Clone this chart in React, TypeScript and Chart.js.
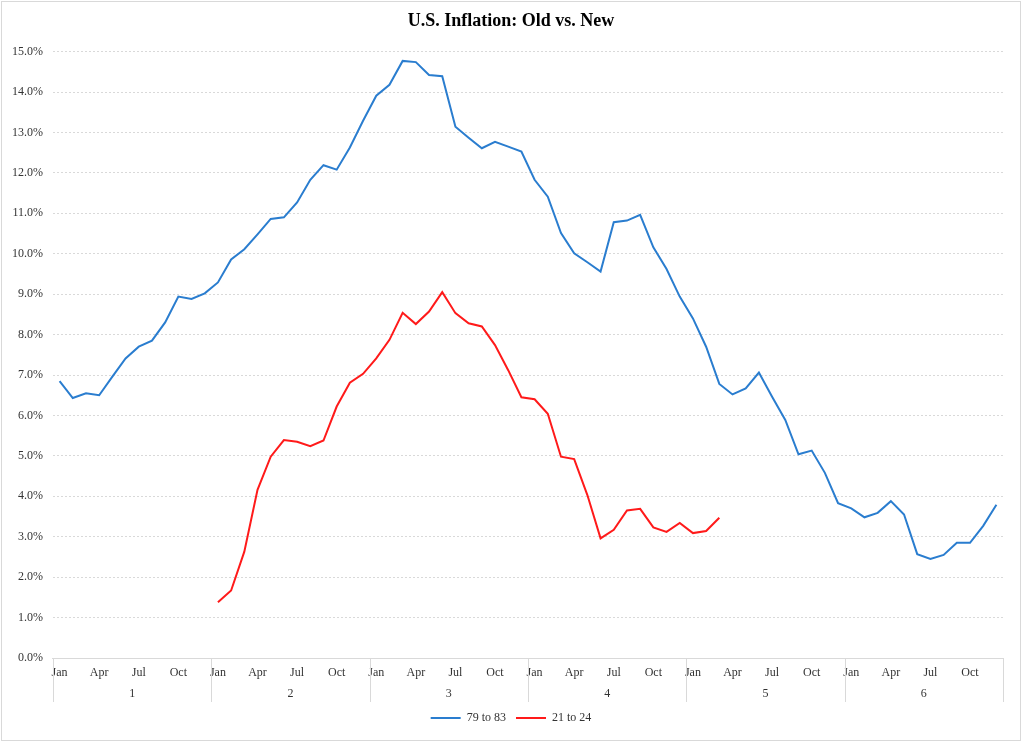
import { useEffect, useRef } from 'react';
import { Chart, registerables } from 'chart.js';

Chart.register(...registerables);

const TITLE = 'U.S. Inflation: Old vs. New';
const YEARS = ['1', '2', '3', '4', '5', '6'];
const MONTHS = ['Jan', 'Feb', 'Mar', 'Apr', 'May', 'Jun', 'Jul', 'Aug', 'Sep', 'Oct', 'Nov', 'Dec'];
const SHOWN_MONTHS = ['Jan', 'Apr', 'Jul', 'Oct'];
const Y_MIN = 0;
const Y_MAX = 15;
const Y_STEP = 1;

const SERIES_OLD_NAME = '79 to 83';
const SERIES_NEW_NAME = '21 to 24';

const OLD_79_83 = [
  6.85, 6.43, 6.55, 6.50, 6.96, 7.41, 7.70, 7.85, 8.30, 8.94, 8.88, 9.02,
  9.29, 9.86, 10.11, 10.48, 10.86, 10.90, 11.27, 11.83, 12.19, 12.08, 12.63, 13.29,
  13.91, 14.18, 14.77, 14.74, 14.42, 14.39, 13.14, 12.87, 12.61, 12.77, 12.65, 12.53,
  11.83, 11.41, 10.51, 10.01, 9.79, 9.56, 10.78, 10.82, 10.96, 10.16, 9.62, 8.94,
  8.40, 7.70, 6.78, 6.52, 6.67, 7.06, 6.46, 5.89, 5.04, 5.13, 4.58, 3.83,
  3.70, 3.48, 3.59, 3.88, 3.55, 2.57, 2.45, 2.55, 2.85, 2.85, 3.27, 3.79,
];

const NEW_21_24 = [
  null, null, null, null, null, null, null, null, null, null, null, null,
  1.38, 1.67, 2.63, 4.16, 4.98, 5.39, 5.35, 5.24, 5.38, 6.22, 6.81, 7.03,
  7.41, 7.87, 8.54, 8.26, 8.57, 9.05, 8.53, 8.28, 8.20, 7.74, 7.12, 6.45,
  6.40, 6.04, 4.98, 4.92, 4.03, 2.96, 3.17, 3.65, 3.69, 3.23, 3.12, 3.34,
  3.09, 3.14, 3.47,
];

const BLUE = '#2a7dcf';
const RED = '#ff1a1a';
const TEXT = '#333333';
const FONT = "'Liberation Serif', 'Times New Roman', serif";

const yearSeparators = {
  id: 'yearSeparators',
  afterDraw(chart: any) {
    const x = chart.scales.x;
    const x2 = chart.scales.x2;
    if (!x || !x2) return;
    const ctx = chart.ctx;
    ctx.save();
    ctx.strokeStyle = '#d9d9d9';
    ctx.lineWidth = 1;
    for (let k = 0; k <= YEARS.length; k++) {
      let px: number;
      if (k === 0) px = x.left;
      else if (k === YEARS.length) px = x.right;
      else px = (x.getPixelForValue(k * 12 - 1) + x.getPixelForValue(k * 12)) / 2;
      px = Math.round(px) + 0.5;
      ctx.beginPath();
      ctx.moveTo(px, x.top);
      ctx.lineTo(px, x2.bottom);
      ctx.stroke();
    }
    ctx.restore();
  },
};

export default function App() {
  const canvasRef = useRef<HTMLCanvasElement | null>(null);

  useEffect(() => {
    if (!canvasRef.current) return;
    const labels: string[] = [];
    YEARS.forEach(() => MONTHS.forEach((m) => labels.push(m)));

    const chart = new Chart(canvasRef.current, {
      type: 'line',
      data: {
        labels,
        datasets: [
          {
            label: SERIES_OLD_NAME,
            data: OLD_79_83,
            borderColor: BLUE,
            backgroundColor: BLUE,
            borderWidth: 2,
            pointRadius: 0,
            tension: 0,
          },
          {
            label: SERIES_NEW_NAME,
            data: NEW_21_24 as any,
            borderColor: RED,
            backgroundColor: RED,
            borderWidth: 2,
            pointRadius: 0,
            tension: 0,
          },
        ],
      },
      options: {
        animation: false,
        responsive: true,
        maintainAspectRatio: false,
        layout: { padding: { top: 0, left: 0, right: 0, bottom: 6 } },
        plugins: {
          title: {
            display: true,
            text: TITLE,
            color: '#000',
            font: { family: FONT, size: 18, weight: 'bold' },
            padding: { top: 9, bottom: 19 },
          },
          legend: {
            position: 'bottom',
            labels: {
              color: TEXT,
              font: { family: FONT, size: 12 },
              usePointStyle: true,
              pointStyle: 'line',
              pointStyleWidth: 30,
              padding: 10,
            },
          },
          tooltip: { enabled: false },
        },
        scales: {
          x: {
            type: 'category',
            position: 'bottom',
            offset: true,
            grid: { display: false, drawTicks: false },
            border: { display: true, color: '#d9d9d9', width: 1 },
            ticks: {
              autoSkip: false,
              maxRotation: 0,
              minRotation: 0,
              padding: 8,
              color: TEXT,
              font: { family: FONT, size: 12 },
              callback: (_v: any, i: number) => (SHOWN_MONTHS.includes(labels[i]) ? labels[i] : ''),
            },
            afterFit: (s: any) => {
              s.height = 21;
            },
          },
          x2: {
            type: 'category',
            position: 'bottom',
            labels: YEARS,
            offset: true,
            grid: { display: false, drawTicks: false },
            border: { display: false },
            ticks: {
              autoSkip: false,
              maxRotation: 0,
              padding: 8,
              color: TEXT,
              font: { family: FONT, size: 12 },
            },
            afterFit: (s: any) => {
              s.height = 23;
            },
          },
          y: {
            min: Y_MIN,
            max: Y_MAX,
            grid: { color: '#d9d9d9', drawTicks: false },
            border: { display: false, dash: [2, 2] },
            ticks: {
              stepSize: Y_STEP,
              padding: 10,
              color: TEXT,
              font: { family: FONT, size: 12 },
              callback: (v: any) => Number(v).toFixed(1) + '%',
            },
          },
          ySpacer: {
            position: 'right',
            grid: { display: false, drawTicks: false },
            border: { display: false },
            ticks: { display: false },
            afterFit: (s: any) => {
              s.width = 17;
            },
          },
        },
      },
      plugins: [yearSeparators],
    });
    return () => chart.destroy();
  }, []);

  return (
    <div
      style={{
        position: 'fixed',
        left: 1,
        top: 1,
        width: 1020,
        height: 740,
        border: '1px solid #d9d9d9',
        boxSizing: 'border-box',
        background: '#fff',
      }}
    >
      <canvas ref={canvasRef} />
    </div>
  );
}
